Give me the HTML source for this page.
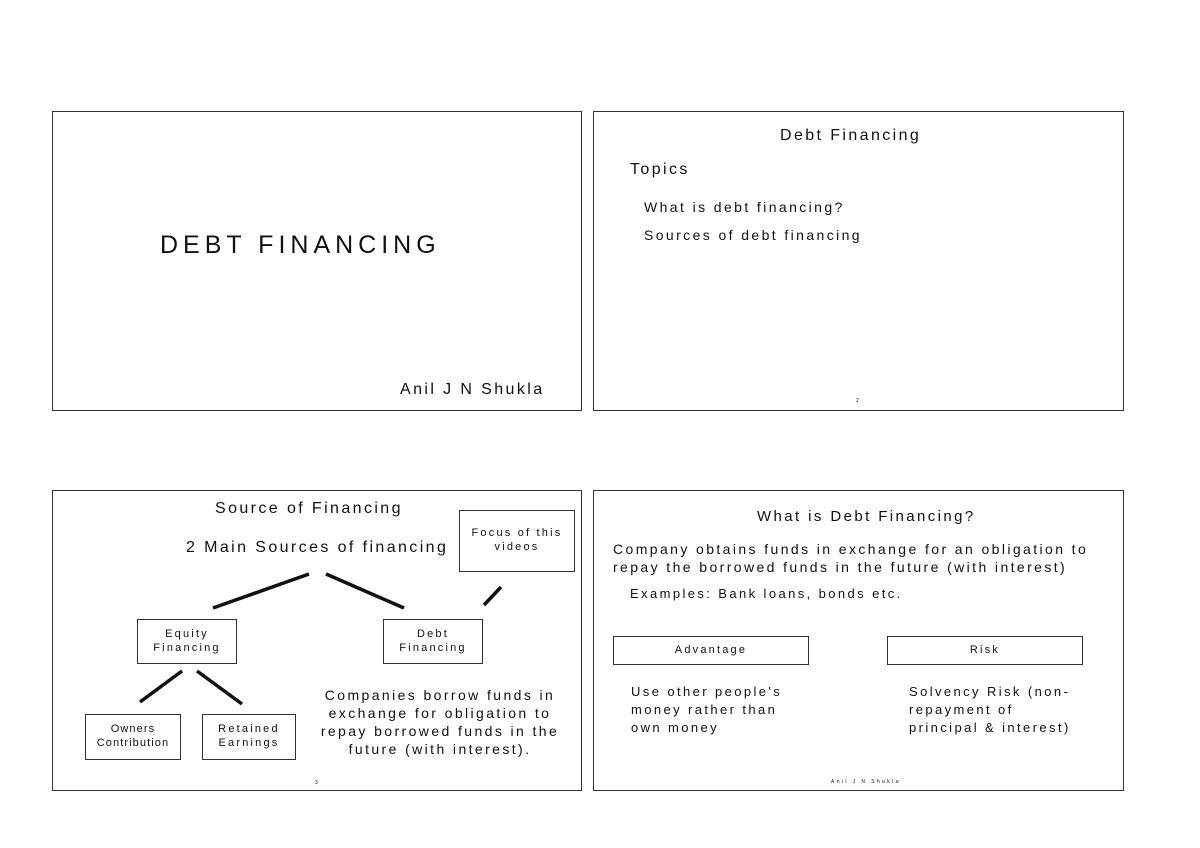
<!DOCTYPE html>
<html><head><meta charset="utf-8"><style>
body{margin:0;width:1200px;height:848px;background:#fff;position:relative;font-family:"Liberation Sans",sans-serif;color:#111;overflow:hidden;letter-spacing:0.15em}
.s{position:absolute;border:1px solid #333;box-sizing:border-box}
.t{position:absolute;white-space:nowrap;line-height:1}
.b{position:absolute;border:1px solid #333;box-sizing:border-box;display:flex;align-items:center;justify-content:center;text-align:center;font-size:11px;line-height:1.25;letter-spacing:0.2em}
</style></head><body>
<div class="s" style="left:52px;top:111px;width:530px;height:300px"></div>
<div class="s" style="left:593px;top:111px;width:531px;height:300px"></div>
<div class="s" style="left:52px;top:490px;width:530px;height:301px"></div>
<div class="s" style="left:593px;top:490px;width:531px;height:301px"></div>

<div class="t" style="left:160px;top:233px;font-size:25px;letter-spacing:0.2em">DEBT FINANCING</div>
<div class="t" style="left:400px;top:382px;font-size:16px">Anil J N Shukla</div>

<div class="t" style="left:780px;top:128px;font-size:16px">Debt Financing</div>
<div class="t" style="left:630px;top:162px;font-size:16px">Topics</div>
<div class="t" style="left:644px;top:200px;font-size:14px">What is debt financing?</div>
<div class="t" style="left:644px;top:228px;font-size:14px">Sources of debt financing</div>
<div class="t" style="left:856px;top:399px;font-size:5px">2</div>

<div class="t" style="left:215px;top:501px;font-size:16px">Source of Financing</div>
<div class="t" style="left:186px;top:540px;font-size:16px">2 Main Sources of financing</div>
<div class="b" style="left:459px;top:510px;width:116px;height:62px">Focus of this<br>videos</div>
<div class="b" style="left:137px;top:619px;width:100px;height:45px">Equity<br>Financing</div>
<div class="b" style="left:383px;top:619px;width:100px;height:45px">Debt<br>Financing</div>
<div class="b" style="left:85px;top:714px;width:96px;height:46px;letter-spacing:0.1em">Owners<br>Contribution</div>
<div class="b" style="left:202px;top:714px;width:94px;height:46px">Retained<br>Earnings</div>
<svg style="position:absolute;left:0;top:0" width="1200" height="848">
<g stroke="#111" stroke-width="3.5" stroke-linecap="butt">
<line x1="213" y1="608" x2="309" y2="574"/>
<line x1="326" y1="574" x2="404" y2="608"/>
<line x1="484" y1="605" x2="501" y2="587"/>
<line x1="140" y1="702" x2="182" y2="671"/>
<line x1="197" y1="671" x2="242" y2="704"/>
</g></svg>
<div class="t" style="left:300px;top:686px;width:280px;font-size:14px;text-align:center;line-height:18px">Companies borrow funds in<br>exchange for obligation to<br>repay borrowed funds in the<br>future (with interest).</div>
<div class="t" style="left:315px;top:781px;font-size:5px">3</div>

<div class="t" style="left:757px;top:509px;font-size:15px">What is Debt Financing?</div>
<div class="t" style="left:613px;top:540px;font-size:14px;line-height:18px">Company obtains funds in exchange for an obligation to<br>repay the borrowed funds in the future (with interest)</div>
<div class="t" style="left:630px;top:587px;font-size:13px">Examples: Bank loans, bonds etc.</div>
<div class="b" style="left:613px;top:636px;width:196px;height:29px">Advantage</div>
<div class="b" style="left:887px;top:636px;width:196px;height:29px">Risk</div>
<div class="t" style="left:631px;top:683px;font-size:13px;line-height:18px">Use other people's<br>money rather than<br>own money</div>
<div class="t" style="left:909px;top:683px;font-size:13px;line-height:18px">Solvency Risk (non-<br>repayment of<br>principal &amp; interest)</div>
<div class="t" style="left:831px;top:780px;font-size:5px">Anil J N Shukla</div>
</body></html>
